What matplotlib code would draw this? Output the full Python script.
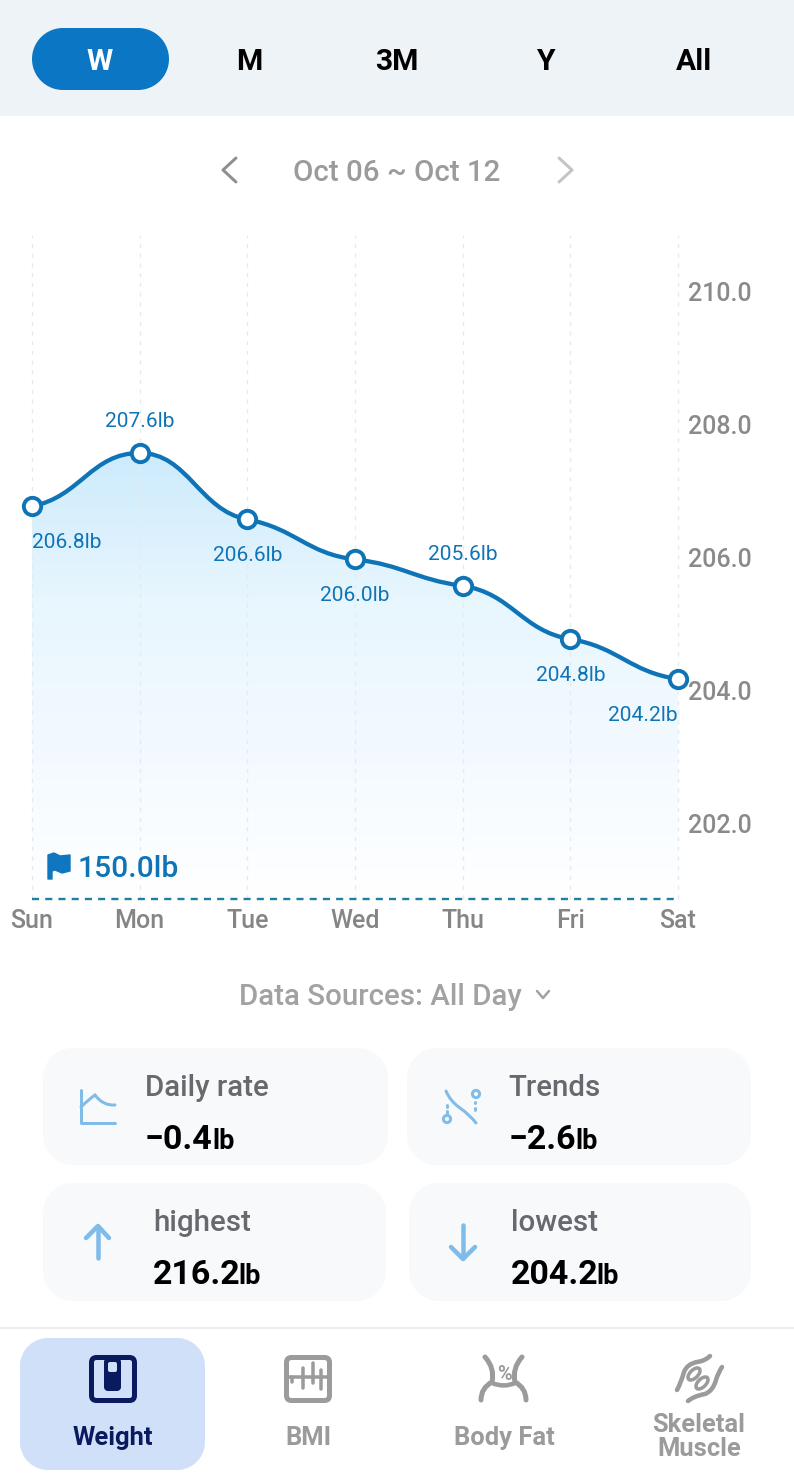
import matplotlib
matplotlib.use('Agg')
import matplotlib.pyplot as plt
import numpy as np
from matplotlib.colors import LinearSegmentedColormap
from matplotlib.patches import FancyBboxPatch, Circle, Ellipse, PathPatch, Polygon
from matplotlib.path import Path
from matplotlib.transforms import ScaledTranslation

plt.rcParams['font.family'] = ['Roboto', 'DejaVu Sans']

# chart data
days = ['Sun', 'Mon', 'Tue', 'Wed', 'Thu', 'Fri', 'Sat']
weights = [206.8, 207.6, 206.6, 206.0, 205.6, 204.8, 204.2]
y_ticks = [202.0, 204.0, 206.0, 208.0, 210.0]
goal_label = '150.0lb'

# the rest of the screen
periods = ['W', 'M', '3M', 'Y', 'All']
date_range = 'Oct 06 ~ Oct 12'
source_label = 'Data Sources: All Day'
card_titles = ['Daily rate', 'Trends', 'highest', 'lowest']
card_values = ['\u22120.4', '\u22122.6', '216.2', '204.2']
nav_labels = ['Weight', 'BMI', 'Body Fat', 'Skeletal\nMuscle']

BLUE = '#0f74b6'
ICON = '#80bce9'
GREY = '#9b9b9b'
NAVY = '#0a1a5e'
CARD = '#f7f9fb'
W, H = 794, 1473


def fs(px):
	return px * 0.72


# smooth line through the points, flat at peaks like the app draws it
def smoothPath(xs, ys, tension=0.38, handle=0.45):
	xs = np.asarray(xs, dtype=float)
	ys = np.asarray(ys, dtype=float)
	m = np.zeros(len(xs))
	for i in range(len(xs)):
		a, b = max(i - 1, 0), min(i + 1, len(xs) - 1)
		m[i] = tension * (ys[b] - ys[a]) / (xs[b] - xs[a])
		if 0 < i < len(xs) - 1 and (ys[i] - ys[a]) * (ys[b] - ys[i]) < 0:
			m[i] = 0
	verts = [(xs[0], ys[0])]
	codes = [Path.MOVETO]
	for i in range(len(xs) - 1):
		h = handle * (xs[i + 1] - xs[i])
		verts += [(xs[i] + h, ys[i] + m[i] * h), (xs[i + 1] - h, ys[i + 1] - m[i + 1] * h), (xs[i + 1], ys[i + 1])]
		codes += [Path.CURVE4] * 3
	return verts, codes


fig = plt.figure(figsize=(W / 100, H / 100), dpi=100, facecolor='white')

# overlay in screen pixels for the app chrome
ui = fig.add_axes([0, 0, 1, 1], zorder=1)
ui.set_xlim(0, W)
ui.set_ylim(H, 0)
ui.axis('off')
# second overlay above the chart, only for the goal flag
top = fig.add_axes([0, 0, 1, 1], zorder=3)
top.set_xlim(0, W)
top.set_ylim(H, 0)
top.axis('off')


# rounded box with true circular corners
def box(x0, y0, x1, y1, r, color):
	t = np.linspace(0, np.pi / 2, 24)
	corners = [(x1 - r, y1 - r, t), (x0 + r, y1 - r, t + np.pi / 2), (x0 + r, y0 + r, t + np.pi), (x1 - r, y0 + r, t + 1.5 * np.pi)]
	pts = np.vstack([np.c_[cx + r * np.cos(a), cy + r * np.sin(a)] for cx, cy, a in corners])
	ui.add_patch(Polygon(pts, closed=True, fc=color, ec='none'))


def stroke(points, color, lw=3, curve=False):
	if curve:
		codes = [Path.MOVETO] + [Path.CURVE3] * (len(points) - 1)
		ui.add_patch(PathPatch(Path(points, codes), fc='none', ec=color, lw=fs(lw), capstyle='round'))
	else:
		xs, ys = zip(*points)
		ui.plot(xs, ys, color=color, lw=fs(lw), solid_capstyle='round', solid_joinstyle='round')


# period switch
ui.add_patch(plt.Rectangle((0, 0), W, 116, fc='#eef3f7', ec='none'))
box(32, 28, 169, 90, 31, '#0b76c3')
for label, x in zip(periods, [100, 249, 397, 545, 694]):
	ui.text(x, 62, label, fontsize=fs(30), fontweight='bold', ha='center', va='center',
		color='white' if label == 'W' else 'black')

# date row
stroke([(236, 158), (223, 170), (236, 182)], '#8f8f8f')
stroke([(559, 158), (572, 170), (559, 182)], '#c4c4c4')
ui.text(397, 173, date_range, fontsize=fs(29.5), fontweight='medium', ha='center', va='center', color=GREY)

# flag and goal value
top.add_patch(Polygon([(48, 855), (54, 853), (60, 856), (70, 855), (70, 871), (62, 873), (55, 870), (52, 871), (52, 879), (48, 879)], fc='#1076c0', ec='#1076c0', lw=1, joinstyle='round'))
top.text(78, 869, goal_label, fontsize=fs(30), fontweight='medium', ha='left', va='center', color=BLUE)

# data source row
ui.text(380, 997, source_label, fontsize=fs(29.5), fontweight='medium', ha='center', va='center', color='#a2a2a2')
stroke([(537, 991), (543, 998), (549, 991)], '#a2a2a2', lw=2.5)

# cards
box(43, 1048, 388, 1165, 30, CARD)
box(407, 1048, 751, 1165, 30, CARD)
box(43, 1183, 386, 1301, 30, CARD)
box(409, 1183, 751, 1301, 30, CARD)
title_pos = [(145, 1088), (508, 1088), (153, 1223), (511, 1223)]
value_pos = [(145, 1139, 212), (509, 1139, 575), (153, 1274, 238), (511, 1274, 596)]
down = ui.transData + ScaledTranslation(0, -7 / 72, fig.dpi_scale_trans)
for title, value, tp, vp in zip(card_titles, card_values, title_pos, value_pos):
	ui.text(tp[0], tp[1], title, fontsize=fs(29.5), fontweight='medium', ha='left', va='center', color='#666a6e')
	ui.text(vp[0], vp[1], value, fontsize=fs(34), fontweight='bold', ha='left', va='baseline', color='black', transform=down)
	ui.text(vp[2], vp[1], 'lb', fontsize=fs(27), fontweight='bold', ha='left', va='baseline', color='black', transform=down)

# card icons
stroke([(81, 1090), (81, 1123), (115, 1123)], ICON, lw=3)
stroke([(81, 1107), (88, 1100), (95, 1095)], ICON, lw=3, curve=True)
stroke([(95, 1095), (103, 1106), (115, 1105)], ICON, lw=3, curve=True)
stroke([(446, 1091), (450, 1101), (460, 1108), (470, 1115), (476, 1123)], ICON, lw=3, curve=True)
ui.add_patch(Circle((447, 1119), 3.6, fc='none', ec=ICON, lw=fs(3)))
ui.add_patch(Circle((476, 1094), 3.6, fc='none', ec=ICON, lw=fs(3)))
stroke([(447, 1105), (447, 1107)], ICON, lw=3)
stroke([(447, 1111), (447, 1113)], ICON, lw=3)
stroke([(475, 1102), (475, 1103)], ICON, lw=3)
stroke([(475, 1108), (475, 1110)], ICON, lw=3)
stroke([(98, 1258), (98, 1227)], ICON, lw=4.5)
stroke([(86, 1238), (98, 1226), (109, 1238)], ICON, lw=4.5)
stroke([(463, 1225), (463, 1258)], ICON, lw=4.5)
stroke([(451, 1247), (463, 1259), (475, 1247)], ICON, lw=4.5)

# bottom navigation
ui.add_patch(plt.Rectangle((0, 1327), W, 2, fc='#ececec', ec='none'))
box(20, 1338, 205, 1470, 28, '#d0e0f9')
ui.text(113, 1438, nav_labels[0], fontsize=fs(25.5), fontweight='bold', ha='center', va='center', color=NAVY)
ui.text(308, 1438, nav_labels[1], fontsize=fs(25.5), fontweight='bold', ha='center', va='center', color=GREY)
ui.text(504, 1438, nav_labels[2], fontsize=fs(25.5), fontweight='bold', ha='center', va='center', color=GREY)
ui.text(699, 1437, nav_labels[3], fontsize=fs(25.5), fontweight='bold', ha='center', va='center', color=GREY, linespacing=0.95)

# weight icon
ui.add_patch(FancyBboxPatch((91.5, 1357.5), 43, 43, boxstyle='round,pad=0,rounding_size=5', fc='none', ec=NAVY, lw=fs(5)))
box(104, 1358, 121, 1391, 4, NAVY)
box(108, 1362, 117, 1372, 2, '#d0e0f9')

# bmi icon
ui.add_patch(FancyBboxPatch((286.5, 1357.5), 43, 43, boxstyle='round,pad=0,rounding_size=5', fc='none', ec=GREY, lw=fs(5)))
stroke([(287, 1377), (330, 1377)], GREY, lw=3.5)
for x, y0, y1 in [(292, 1377, 1382), (303, 1368, 1388), (313, 1363, 1383), (321, 1370, 1389)]:
	stroke([(x, y0), (x, y1)], GREY, lw=3.5)

# body fat icon
stroke([(485, 1357), (495, 1368), (492, 1382), (481, 1388), (481, 1400)], GREY, lw=5, curve=True)
stroke([(522, 1357), (512, 1368), (515, 1382), (526, 1388), (526, 1400)], GREY, lw=5, curve=True)
stroke([(492, 1383), (504, 1388), (515, 1383)], GREY, lw=4.5, curve=True)
ui.text(504, 1374, '%', fontsize=fs(20), fontweight='bold', ha='center', va='center', color=GREY)

# skeletal muscle icon
stroke([(677, 1390), (681, 1383), (684, 1372), (687, 1364), (697, 1362), (705, 1361), (710, 1356)], GREY, lw=4.5, curve=True)
stroke([(688, 1401), (694, 1396), (705, 1394), (713, 1391), (716, 1380), (718, 1373), (722, 1367)], GREY, lw=4.5, curve=True)
ui.add_patch(Ellipse((694, 1374), 15, 8, angle=-45, fc='none', ec=GREY, lw=fs(3.5)))
ui.add_patch(Ellipse((702, 1383), 15, 8, angle=-45, fc='none', ec=GREY, lw=fs(3.5)))

# the actual chart, placed so the ticks land on the same pixels
y_min, y_max = 200.89, 210.88
ax = fig.add_axes([32 / W, 1 - 899 / H, (678 - 32) / W, (899 - 235) / H], zorder=2)
ax.patch.set_alpha(0)
xs = np.arange(len(days))
verts, codes = smoothPath(xs, weights)

# gradient under the curve
fade = LinearSegmentedColormap.from_list('fade', ['#ffffff', '#f3faff', '#e8f6fe', '#cdebfc'])
grad = np.linspace(0, 1, 256).reshape(-1, 1)
img = ax.imshow(grad, origin='lower', cmap=fade, aspect='auto', extent=[0, 6, y_min, max(weights)], zorder=1)
area = Path(verts + [(xs[-1], y_min), (xs[0], y_min), verts[0]], codes + [Path.LINETO, Path.LINETO, Path.LINETO])
img.set_clip_path(PathPatch(area, transform=ax.transData))

ax.set_xlim(0, 6)
ax.set_ylim(y_min, y_max)
for x in xs:
	ax.axvline(x, color='#e4ebf0', lw=1, ls=(0, (3, 4)), zorder=2, clip_on=False)
ax.axhline(y_min, color='#1f7ea6', lw=1.7, ls=(0, (3, 2.6)), zorder=3, clip_on=False)

ax.add_patch(PathPatch(Path(verts, codes), fc='none', ec=BLUE, lw=3.1, zorder=4, capstyle='round'))
ax.plot(xs, weights, ls='none', marker='o', ms=12.5, mfc='white', mec=BLUE, mew=2.8, zorder=5, clip_on=False)

# value labels: below the point, except Mon and Thu which sit above
for i, (x, v) in enumerate(zip(xs, weights)):
	above = days[i] in ('Mon', 'Thu')
	ha = 'left' if i == 0 else 'right' if i == len(xs) - 1 else 'center'
	ax.annotate('%.1flb' % v, (x, v), xytext=(0, 22.5 if above else -26), textcoords='offset points',
		ha=ha, va='center', fontsize=fs(21), color=BLUE, zorder=6, annotation_clip=False)

for s in ax.spines.values():
	s.set_visible(False)
ax.set_xticks(xs)
ax.set_xticklabels(days, fontweight='medium')
ax.set_yticks(y_ticks)
ax.set_yticklabels(['%.1f' % t for t in y_ticks], fontweight='medium')
ax.yaxis.tick_right()
ax.tick_params(axis='x', length=0, pad=7, labelsize=fs(25), labelcolor='#858585')
ax.tick_params(axis='y', length=0, pad=7.2, labelsize=fs(25), labelcolor='#8a8a8a')
up = ScaledTranslation(0, 1.5 / 72, fig.dpi_scale_trans)
for lab in ax.get_yticklabels():
	lab.set_transform(lab.get_transform() + up)

fig.savefig('out.png', dpi=100)
